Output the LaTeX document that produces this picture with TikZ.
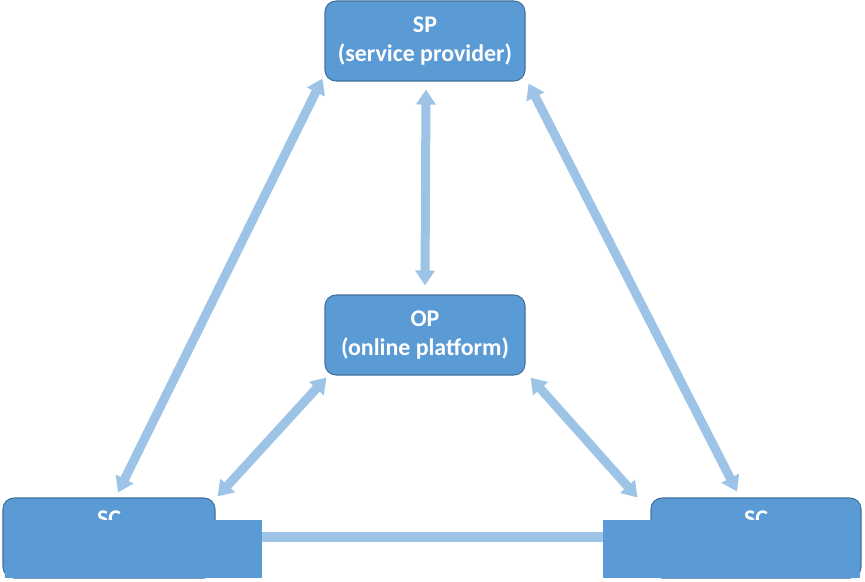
\documentclass[tikz,border=0pt]{standalone}
\usepackage{fontspec}
\setmainfont{Carlito}
\usepackage{tikz}
\usetikzlibrary{positioning,calc,arrows.meta}

\definecolor{boxblue}{HTML}{5B9BD5}
\definecolor{boxline}{HTML}{41719C}
\definecolor{linkblue}{HTML}{9DC3E6}

\begin{document}
\begin{tikzpicture}[
	party/.style={draw=boxline, line width=0.6pt, fill=boxblue, rounded corners=0.22cm,
		text=white, font=\fontsize{13.6}{16.5}\selectfont\bfseries, align=center,
		minimum height=1.6cm, inner sep=0pt},
	cover/.style={fill=boxblue, draw=none, minimum width=5.14cm, minimum height=1.16cm, inner sep=0pt},
	link/.style={draw=linkblue, line width=0.18cm,
		{Triangle[width=0.38cm,length=0.3cm]}-{Triangle[width=0.38cm,length=0.3cm]}}
	]
	\useasboundingbox (0,0) rectangle (17.3,11.62);
	\node [party, minimum width=4cm] (SP) at (8.5, 10.8) {SP\\(service provider)};
	\node [party, minimum width=4cm] (OP) at (8.5, 4.92) {OP\\(online platform)};
	\node [party, minimum width=4.24cm] (SCl) at (2.18, 0.86) {SC\\\strut};
	\node [party, minimum width=4.2cm] (SCr) at (15.12, 0.86) {SC\\\strut};
	\node [cover] (cvL) at (2.67, 0.64) {};
	\node [cover] (cvR) at (14.63, 0.64) {};
	\path [link] ($(SP.south)+(0.02,-0.16)$) -- ($(OP.north)+(0,0.18)$);
	\path [link] ($(SP.south west)+(-0.04,0.06)$) -- ($(SCl.north)+(0.18,0.1)$);
	\path [link] ($(SP.south east)+(0.06,-0.04)$) -- ($(SCr.north)+(-0.38,0.12)$);
	\path [link] ($(OP.south west)+(0.04,-0.04)$) -- ($(SCl.north east)+(0.04,0.02)$);
	\path [link] ($(OP.south east)+(0.1,-0.04)$) -- ($(SCr.north west)+(-0.26,0)$);
	\draw [linkblue, line width=0.2cm] ($(cvL.east)+(0,0.24)$) -- ($(cvR.west)+(0,0.24)$);
\end{tikzpicture}
\end{document}
